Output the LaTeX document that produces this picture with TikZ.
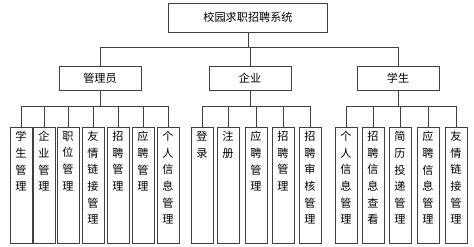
\documentclass[tikz,border=0pt]{standalone}
\usepackage{fontspec}
\newfontfamily\cjk{Noto Sans CJK SC}
\usepackage{tikz}
\usetikzlibrary{calc}
\tikzset{
    sysbox/.style={draw=black!75, line width=0.6pt, minimum width=4.77cm, minimum height=0.87cm, inner sep=0pt, font=\cjk\fontsize{9.5}{11}\selectfont},
    rolebox/.style={draw=black!75, line width=0.6pt, minimum width=2.46cm, minimum height=0.72cm, inner sep=0pt, font=\cjk\fontsize{9.5}{11}\selectfont},
    leafbox/.style={draw=black!75, line width=0.6pt, anchor=north, inner sep=0pt, font=\cjk\fontsize{9.5}{14.2}\selectfont},
    branch/.style={draw=black!75, line width=0.6pt}
}
\newcommand{\vlabel}[1]{\parbox[t][3.48cm][t]{0.66cm}{\centering\vspace*{0.12cm}#1}}

\begin{document}
\begin{tikzpicture}[x=0.03cm, y=-0.03cm]
            \useasboundingbox (0,0) rectangle (474,246);

            % ---------- Top: system ----------
            \node[sysbox] (sys) at (248,17.5) {校园求职招聘系统};

            % ---------- Middle: roles ----------
            \node[rolebox] (admin) at (100,78) {管理员};
            \node[rolebox] (firm) at (250,78) {企业};
            \node[rolebox] (stu) at (398,78) {学生};

            \foreach \r in {admin, firm, stu}
                \draw[branch] (sys.south) -- ++(0,-0.45cm) -| (\r.north);

            % ---------- Bottom-left: admin ----------
            \node[leafbox] (a1) at (21,127) {\vlabel{学\\生\\管\\理}};
            \node[leafbox] (a2) at (44,127) {\vlabel{企\\业\\管\\理}};
            \node[leafbox] (a3) at (68,127) {\vlabel{职\\位\\管\\理}};
            \node[leafbox] (a4) at (93,127) {\vlabel{友\\情\\链\\接\\管\\理}};
            \node[leafbox] (a5) at (118,127) {\vlabel{招\\聘\\管\\理}};
            \node[leafbox] (a6) at (143,127) {\vlabel{应\\聘\\管\\理}};
            \node[leafbox] (a7) at (168,127) {\vlabel{个\\人\\信\\息\\管\\理}};

            \foreach \c in {a1,a2,a3,a4,a5,a6,a7}
                \draw[branch] (admin.south) -- ++(0,-0.48cm) -| (\c.north);

            % ---------- Bottom-middle: firm ----------
            \node[leafbox] (f1) at (202,127) {\vlabel{登\\录}};
            \node[leafbox] (f2) at (228,127) {\vlabel{注\\册}};
            \node[leafbox] (f3) at (256,127) {\vlabel{应\\聘\\管\\理}};
            \node[leafbox] (f4) at (283,127) {\vlabel{招\\聘\\管\\理}};
            \node[leafbox] (f5) at (310,127) {\vlabel{招\\聘\\审\\核\\管\\理}};

            \foreach \c in {f1,f2,f3,f4,f5}
                \draw[branch] (firm.south) -- ++(0,-0.48cm) -| (\c.north);

            % ---------- Bottom-right: student ----------
            \node[leafbox] (s1) at (346,127) {\vlabel{个\\人\\信\\息\\管\\理}};
            \node[leafbox] (s2) at (373,127) {\vlabel{招\\聘\\信\\息\\查\\看}};
            \node[leafbox] (s3) at (400,127) {\vlabel{简\\历\\投\\递\\管\\理}};
            \node[leafbox] (s4) at (428,127) {\vlabel{应\\聘\\信\\息\\管\\理}};
            \node[leafbox] (s5) at (456,127) {\vlabel{友\\情\\链\\接\\管\\理}};

            \foreach \c in {s1,s2,s3,s4,s5}
                \draw[branch] (stu.south) -- ++(0,-0.48cm) -| (\c.north);
        \end{tikzpicture}
\end{document}
